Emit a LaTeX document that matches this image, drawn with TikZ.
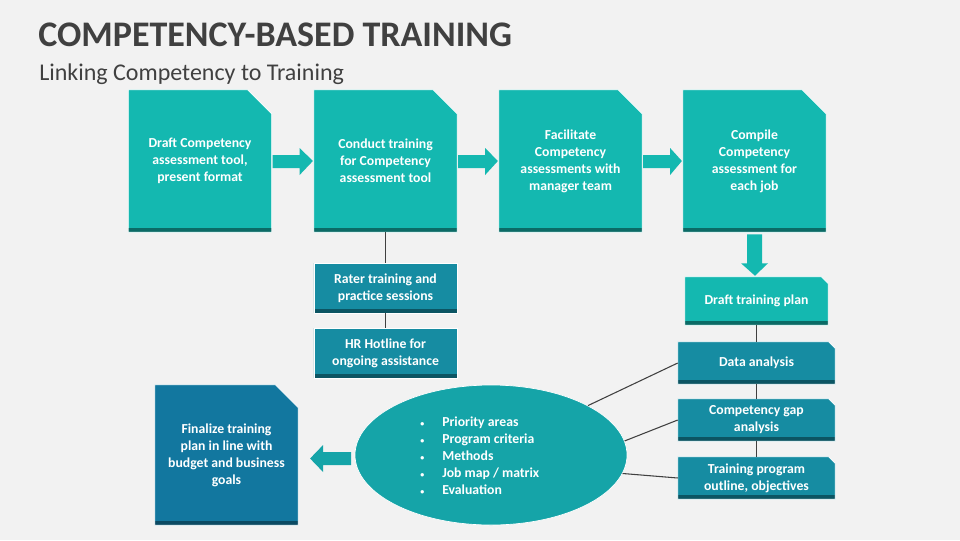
\documentclass[tikz,border=0pt]{standalone}
\usepackage{fontspec}
\setmainfont{Carlito}
\usetikzlibrary{shapes.geometric,calc,backgrounds}
\definecolor{bg}{HTML}{F2F2F2}
\definecolor{teal1}{HTML}{14B8B0}
\definecolor{tealdk}{HTML}{0B6B66}
\definecolor{blue1}{HTML}{168CA2}
\definecolor{bluedk}{HTML}{0C5563}
\definecolor{blue2}{HTML}{12779F}
\definecolor{blue2dk}{HTML}{0B4A63}
\definecolor{ellc}{HTML}{15A4A8}
\definecolor{titlec}{HTML}{404040}
\definecolor{linec}{HTML}{404040}
\newcommand\chamfill[4]{%
  \fill[#3] (#1.south west) -- (#1.north west) -- ([xshift=-#2]#1.north east) -- ([yshift=-#2]#1.north east) -- (#1.south east) -- cycle;
  \fill[#4] (#1.south west) rectangle ([yshift=3pt]#1.south east);
  \draw[white, line width=0.5pt] (#1.south west) -- (#1.north west) -- ([xshift=-#2]#1.north east) -- ([yshift=-#2]#1.north east) -- (#1.south east) -- cycle;
}
\newcommand\bul{\makebox[16.5pt][l]{\raisebox{0.5pt}{\fontsize{6}{6}\selectfont•}}}
\tikzset{
  box/.style={rectangle, text=white, align=center,
    font=\fontsize{10.3}{12.75}\selectfont\bfseries, inner sep=0pt},
  bigbox/.style={box, minimum width=107pt, minimum height=106.5pt},
  midbox/.style={box, minimum width=107pt, minimum height=37pt},
  smallbox/.style={box, minimum width=117.75pt, minimum height=31.5pt},
  conn/.style={draw=linec, line width=0.8pt},
}
\begin{document}
\begin{tikzpicture}[x=0.75pt,y=-0.75pt]
\pgfdeclarelayer{bottom}
\pgfsetlayers{bottom,background,main}
\begin{pgfonlayer}{bottom}
\fill[bg] (0,0) rectangle (960,540);
\end{pgfonlayer}
\useasboundingbox (0,0) rectangle (960,540);
% titles
\node[anchor=base west, inner sep=0, text=titlec, font=\fontsize{27}{30}\selectfont\bfseries] (title) at (38,46) {COMPETENCY-BASED TRAINING};
\node[anchor=base west, inner sep=0, text=titlec, font=\fontsize{18}{21}\selectfont] (sub) at (39,80) {Linking Competency to Training};
% top boxes
\node[bigbox] (b1) at (200,161) {Draft Competency\\assessment tool,\\present format};
\node[bigbox] (b2) at (385.5,161) {Conduct training\\for Competency\\assessment tool};
\node[bigbox] (b3) at (570.5,161) {Facilitate\\Competency\\assessments with\\manager team};
\node[bigbox] (b4) at (754.5,161) {Compile\\Competency\\assessment for\\each job};
% rater boxes
\node[midbox] (r1) at (385.5,288) {Rater training and\\practice sessions};
\node[midbox] (r2) at (385.5,353) {HR Hotline for\\ongoing assistance};
% draft training plan
\node[midbox, minimum height=36pt] (dt) at (756.5,301) {Draft training plan};
% analysis boxes
\node[smallbox] (da) at (756.5,363) {Data analysis};
\node[smallbox] (cg) at (756.5,420) {Competency gap\\analysis};
\node[smallbox] (tp) at (756.5,478) {Training program\\outline, objectives};
% ellipse
\node[ellipse, fill=ellc, draw=white, line width=0.5pt, minimum width=204pt, minimum height=105pt, inner sep=0pt] (ell) at (491,455) {};
\node[anchor=west, inner sep=0pt, text=white, align=left, font=\fontsize{10.3}{12.75}\selectfont\bfseries] (list) at (420,456)
  {\bul Priority areas\\\bul Program criteria\\\bul Methods\\\bul Job map / matrix\\\bul Evaluation};
% finalize
\node[box, minimum width=107pt, minimum height=105pt] (fin) at (226.5,455) {Finalize training\\plan in line with\\budget and business\\goals};

\begin{scope}[on background layer]
\chamfill{b1}{18pt}{teal1}{tealdk}
\chamfill{b2}{18pt}{teal1}{tealdk}
\chamfill{b3}{18pt}{teal1}{tealdk}
\chamfill{b4}{18pt}{teal1}{tealdk}
\chamfill{r1}{0pt}{blue1}{bluedk}
\chamfill{r2}{0pt}{blue1}{bluedk}
\chamfill{dt}{5pt}{teal1}{tealdk}
\chamfill{da}{5pt}{blue1}{bluedk}
\chamfill{cg}{5pt}{blue1}{bluedk}
\chamfill{tp}{5pt}{blue1}{bluedk}
\chamfill{fin}{17pt}{blue2}{blue2dk}
\end{scope}

% right arrows
\foreach \a/\b in {b1/b2,b2/b3,b3/b4}{
  \fill[teal1] ($(\a.east)+(1,-6)$) -- ($(\a.east)+(28,-6)$) -- ($(\a.east)+(28,-13)$)
     -- ($(\b.west)+(-1,0)$) -- ($(\a.east)+(28,14)$) -- ($(\a.east)+(28,7)$) -- ($(\a.east)+(1,7)$) -- cycle;
}
% down arrow
\fill[teal1] ($(b4.south)+(-7.5,2)$) -- ($(b4.south)+(-7.5,31)$) -- ($(b4.south)+(-13.5,31)$)
  -- ($(dt.north)+(-1.5,-1)$) -- ($(b4.south)+(13.5,31)$) -- ($(b4.south)+(7.5,31)$) -- ($(b4.south)+(7.5,2)$) -- cycle;
% connectors
\draw[conn] (b2.south) -- (r1.north);
\draw[conn] (r1.south) -- (r2.north);
\draw[conn] (dt.south) -- (da.north);
\draw[conn] (da.south) -- (cg.north);
\draw[conn] (cg.south) -- (tp.north);
\draw[conn] (ell.27) -- (da.west);
\draw[conn] (ell.6) -- (cg.west);
\draw[conn] (ell.-8) -- (tp.west);
% left arrow
\fill[ellc] ($(fin.east)+(12,3.5)$) -- ($(fin.east)+(25,-10)$) -- ($(fin.east)+(25,-3)$) -- ($(fin.east)+(53,-3)$)
  -- ($(fin.east)+(53,10)$) -- ($(fin.east)+(25,10)$) -- ($(fin.east)+(25,17)$) -- cycle;
\end{tikzpicture}
\end{document}
